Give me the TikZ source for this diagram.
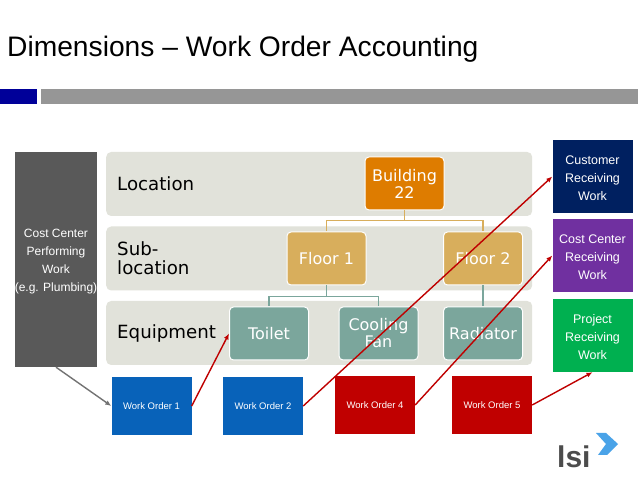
\documentclass[tikz,border=0pt]{standalone}
\usepackage{fontspec}
\setmainfont{Liberation Sans}
\newfontfamily\verdfont{DejaVu Sans}
\usetikzlibrary{arrows.meta}
\definecolor{bandgray}{HTML}{E1E2DA}
\definecolor{bldorange}{HTML}{DE7C00}
\definecolor{floorgold}{HTML}{D8AE5C}
\definecolor{equipgreen}{HTML}{7BA69C}
\definecolor{wolblue}{HTML}{0862B9}
\definecolor{wored}{HTML}{C00000}
\definecolor{custnavy}{HTML}{002060}
\definecolor{centerpurple}{HTML}{7030A0}
\definecolor{projgreen}{HTML}{00B050}
\definecolor{chevblue}{HTML}{4AA3E8}
\newcommand{\lowerline}{\rule{0pt}{13pt}}
\tikzset{
	band/.style={fill=bandgray, rounded corners=5pt, minimum height=64pt, text width=404pt, inner xsep=11pt, align=left, font=\verdfont\fontsize{18.2}{19}\selectfont, anchor=west},
	treebox/.style={draw=white, line width=1pt, rounded corners=4pt, minimum width=79pt, minimum height=53pt, inner sep=0pt, align=center, text=white, font=\verdfont\fontsize{16}{17}\selectfont},
	wobox/.style={minimum width=80pt, minimum height=58pt, inner sep=0pt, text=white, font=\fontsize{9.5}{11}\selectfont},
	recvbox/.style={minimum width=80pt, minimum height=73pt, inner sep=0pt, align=center, text=white, font=\fontsize{12.5}{18}\selectfont},
	redarrow/.style={draw=red!75!black, line width=1.4pt, -{Latex[length=6pt,width=5pt]}},
}
\begin{document}
\begin{tikzpicture}[x=1pt,y=-1pt]
	\useasboundingbox (0,0) rectangle (638,478);
	\fill[white] (0,0) rectangle (638,478);

	\node[anchor=base west, inner sep=0pt, font=\fontsize{28.2}{30}\selectfont] (title) at (7,57) {Dimensions -- Work Order Accounting};
	\fill[blue!60!black] (0,89) rectangle (37,104);
	\fill[black!41] (41,89) rectangle (638,104);

	\node[recvbox, fill=black!65, minimum height=215pt, font=\fontsize{12}{18}\selectfont] (perform) at (56,259.5) {\lowerline Cost Center\\Performing\\Work\\(e.g. Plumbing)};

	\node[band] (location) at (106,184) {Location};
	\node[band] (sublocation) at (106,258.5) {Sub-\\location};
	\node[band] (equipment) at (106,333) {Equipment};

	\node[treebox, fill=bldorange] (building) at (404.5,183.5) {Building\\22};
	\node[treebox, fill=floorgold] (floor1) at (326.5,258.5) {Floor 1};
	\node[treebox, fill=floorgold] (floor2) at (483,258.5) {Floor 2};
	\node[treebox, fill=equipgreen] (toilet) at (269,333.5) {Toilet};
	\node[treebox, fill=equipgreen] (fan) at (378.5,333.5) {Cooling\\Fan};
	\node[treebox, fill=equipgreen] (radiator) at (483,333.5) {Radiator};

	\draw[floorgold, line width=1.3pt] (building.south) -- ++(0,10) -| (floor1.north);
	\draw[floorgold, line width=1.3pt] (building.south) -- ++(0,10) -| (floor2.north);
	\draw[equipgreen, line width=1.3pt] (floor1.south) -- ++(0,11) -| (toilet.north);
	\draw[equipgreen, line width=1.3pt] (floor1.south) -- ++(0,11) -| (fan.north);
	\draw[equipgreen, line width=1.3pt] (floor2.south) -- (radiator.north);

	\node[wobox, fill=wolblue] (wo1) at (151.5,406) {Work Order 1};
	\node[wobox, fill=wolblue] (wo2) at (263,406) {Work Order 2};
	\node[wobox, fill=wored] (wo4) at (375,405) {Work Order 4};
	\node[wobox, fill=wored] (wo5) at (492,405) {Work Order 5};

	\node[recvbox, fill=custnavy] (customer) at (592.5,176.5) {\lowerline Customer\\Receiving\\Work};
	\node[recvbox, fill=centerpurple] (center) at (592.5,255.5) {\lowerline Cost Center\\Receiving\\Work};
	\node[recvbox, fill=projgreen] (project) at (592.5,335.5) {\lowerline Project\\Receiving\\Work};

	\draw[black!55, line width=1.4pt, -{Latex[length=6pt,width=5pt]}] (perform.south) -- (wo1.west);
	\draw[redarrow] (wo1.east) -- (toilet.west);
	\draw[redarrow] (wo2.east) -- (customer.west);
	\draw[redarrow] (wo4.east) -- (center.west);
	\draw[redarrow] (wo5.east) -- (project.south);

	\node[anchor=base west, inner sep=0pt, text=black!70, font=\bfseries\fontsize{30}{30}\selectfont] (logo) at (557,468) {lsi};
	\fill[chevblue] (596,433) -- (606,433) -- (618,444) -- (607,455) -- (598,455) -- (606,444) -- cycle;
\end{tikzpicture}
\end{document}
